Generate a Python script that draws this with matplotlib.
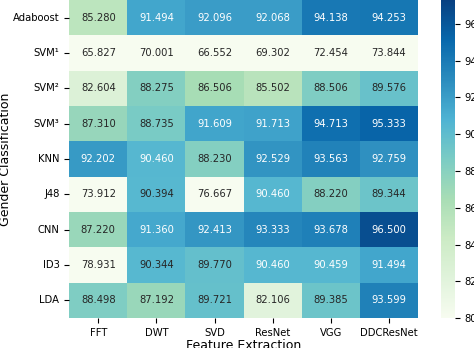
import numpy as np
import matplotlib
matplotlib.use("Agg")
import matplotlib.pyplot as plt
import seaborn as sns

features = ["FFT", "DWT", "SVD", "ResNet", "VGG", "DDCResNet"]
classifiers = ["Adaboost", "SVM¹", "SVM²", "SVM³", "KNN", "J48", "CNN", "ID3", "LDA"]

adaboost = [85.280, 91.494, 92.096, 92.068, 94.138, 94.253]
svm1 = [65.827, 70.001, 66.552, 69.302, 72.454, 73.844]
svm2 = [82.604, 88.275, 86.506, 85.502, 88.506, 89.576]
svm3 = [87.310, 88.735, 91.609, 91.713, 94.713, 95.333]
knn = [92.202, 90.460, 88.230, 92.529, 93.563, 92.759]
j48 = [73.912, 90.394, 76.667, 90.460, 88.220, 89.344]
cnn = [87.220, 91.360, 92.413, 93.333, 93.678, 96.500]
id3 = [78.931, 90.344, 89.770, 90.460, 90.459, 91.494]
lda = [88.498, 87.192, 89.721, 82.106, 89.385, 93.599]

data = np.array([adaboost, svm1, svm2, svm3, knn, j48, cnn, id3, lda])

fig = plt.figure(figsize=(4.74, 3.48), dpi=100)
ax = fig.add_axes([0.146, 0.086, 0.736, 0.914])
cax = fig.add_axes([0.930, 0.086, 0.030, 0.914])

sns.heatmap(data, ax=ax, cbar_ax=cax, cmap="GnBu", vmin=80, vmax=97.3,
            annot=True, fmt=".3f", annot_kws={"fontsize": 7.2},
            xticklabels=features, yticklabels=classifiers)

ax.tick_params(labelsize=7.2)
ax.set_yticklabels(classifiers, rotation=0)
ax.set_xlabel("Feature Extraction", fontsize=9, labelpad=1)
ax.set_ylabel("Gender Classification", fontsize=9)
ax.yaxis.set_label_coords(-0.163, 0.5)
cax.tick_params(labelsize=7.2)
cax.set_yticks([80, 82, 84, 86, 88, 90, 92, 94, 96])

fig.savefig("out.png", dpi=100)
